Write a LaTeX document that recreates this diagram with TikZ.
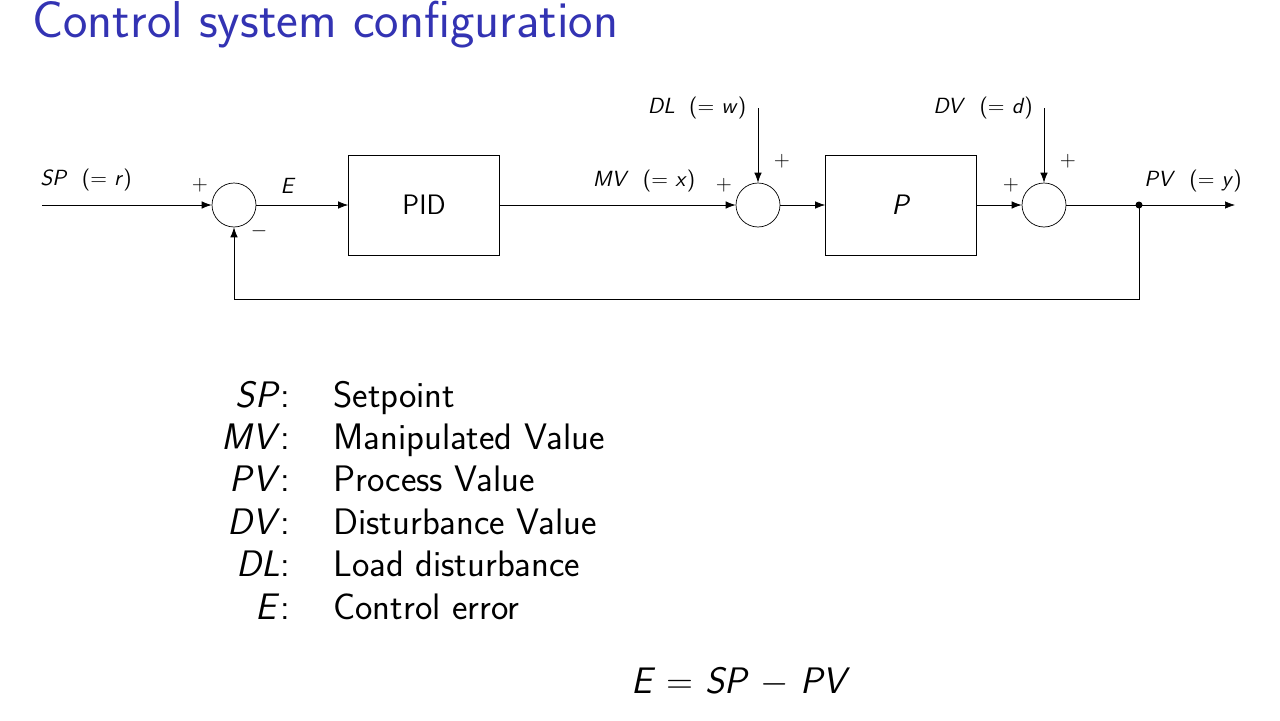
\documentclass[tikz,border=0pt]{standalone}
\usetikzlibrary{arrows.meta,positioning}
\definecolor{titleblue}{RGB}{51,51,179}
\tikzset{
  block/.style={draw, minimum width=3.02cm, minimum height=2cm, font=\sffamily\fontsize{16}{18}\selectfont},
  sum/.style={draw, circle, minimum size=0.88cm, inner sep=0pt},
  lbl/.style={font=\sffamily\fontsize{12.5}{14}\selectfont},
  sgn/.style={font=\sffamily\fontsize{12}{13}\selectfont},
  sig/.style={-{Latex[length=2mm,width=1.5mm]}},
  leg/.style={font=\sffamily\fontsize{21}{23}\selectfont, anchor=base west, inner sep=0},
  legkey/.style={font=\sffamily\fontsize{21}{23}\selectfont, anchor=base east, inner sep=0},
}
\begin{document}
\begin{tikzpicture}[x=0.02cm, y=-0.02cm]
  \useasboundingbox (0,0) rectangle (1280,720);
  % title
  \node[anchor=base west, inner sep=0, text=titleblue, font=\sffamily\fontsize{29.5}{32}\selectfont] (title) at (32,37) {Control system configuration};

  % blocks and summing points
  \node[sum] (s1) at (234,205) {};
  \node[block] (pid) at (424,205) {PID};
  \node[sum] (s2) at (758,205) {};
  \node[block] (proc) at (901,205) {\textit{P}};
  \node[sum] (s3) at (1044,205) {};
  \fill (1139,205) circle (0.07cm);
  \coordinate (br) at (1139,205);
  \coordinate (in) at (42,205);
  \coordinate (out) at (1235,205);
  \coordinate (fbr) at (1139,299);
  \coordinate (fbl) at (234,299);
  \coordinate (dl) at (758,108);
  \coordinate (dv) at (1044,108);

  % signals
  \draw[sig] (in) -- (s1);
  \draw[sig] (s1) -- (pid);
  \draw[sig] (pid) -- (s2);
  \draw[sig] (s2) -- (proc);
  \draw[sig] (proc) -- (s3);
  \draw (s3) -- (br);
  \draw[sig] (br) -- (out);
  \draw[sig] (br) -- (fbr) -- (fbl) -- (s1);
  \draw[sig] (dl) -- (s2);
  \draw[sig] (dv) -- (s3);

  % labels
  \node[lbl] (lsp) at (86,180) {\textit{SP}\ \ (=\ \textit{r})};
  \node[lbl] (le) at (288,186) {\textit{E}};
  \node[lbl] (lmv) at (644,181) {\textit{MV}\ \ (=\ \textit{x})};
  \node[lbl] (ldl) at (697,108) {\textit{DL}\ \ (=\ \textit{w})};
  \node[lbl] (ldv) at (983,108) {\textit{DV}\ \ (=\ \textit{d})};
  \node[lbl] (lpv) at (1193,181) {\textit{PV}\ \ (=\ \textit{y})};
  \node[sgn] at (200,185) {+};
  \node[sgn] at (259,231) {$-$};
  \node[sgn] at (724,185) {+};
  \node[sgn] at (782,161) {+};
  \node[sgn] at (1011,185) {+};
  \node[sgn] at (1068,161) {+};

  % legend
  \foreach \k/\t [count=\i from 0] in {SP/Setpoint, MV/Manipulated Value, PV/Process Value, DV/Disturbance Value, DL/Load disturbance, E/Control error}{
    \node[legkey] at (290,407+42.4*\i) {\textit{\k}:};
    \node[leg] at (333,407+42.4*\i) {\t};
  }
  \node[font=\sffamily\fontsize{21}{23}\selectfont] (eq) at (741,682) {\textit{E} = \textit{SP} $-$ \textit{PV}};
\end{tikzpicture}
\end{document}
